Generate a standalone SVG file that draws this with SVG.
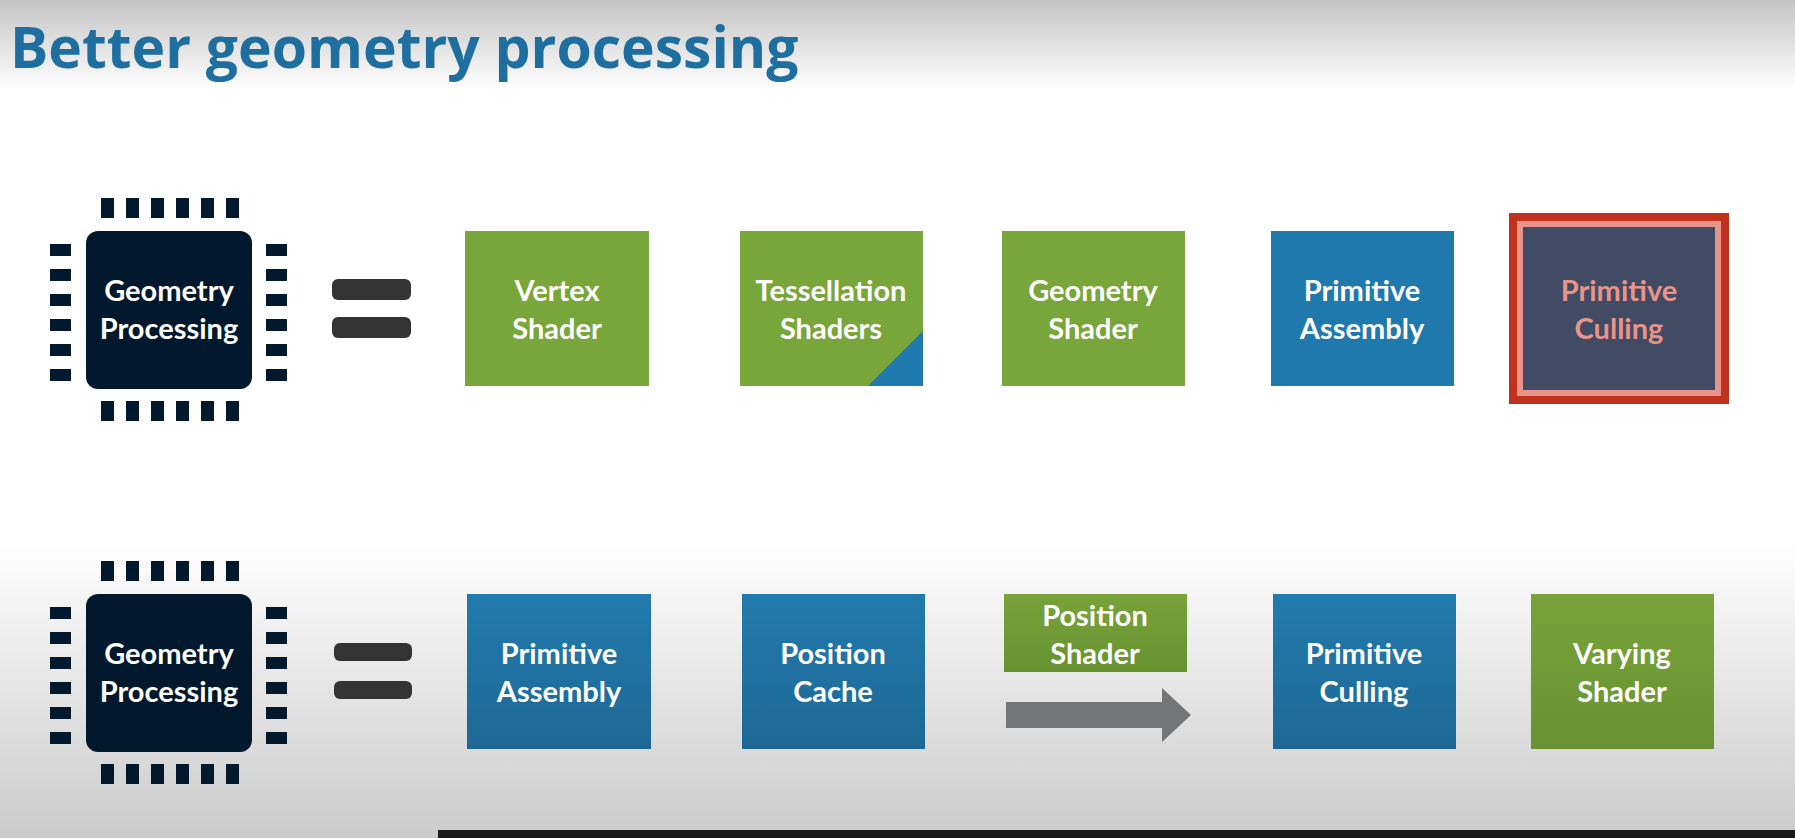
<svg xmlns="http://www.w3.org/2000/svg" width="1795" height="838" viewBox="0 0 1795 838">
<defs>
<linearGradient id="bgTop" x1="0" y1="0" x2="0" y2="1"><stop offset="0" stop-color="#c4c4c4"/><stop offset="1" stop-color="#ffffff"/></linearGradient>
<linearGradient id="bgBot" x1="0" y1="0" x2="0" y2="1"><stop offset="0" stop-color="#ffffff"/><stop offset="1" stop-color="#cbcbcb"/></linearGradient>
<linearGradient id="gGreen" x1="0" y1="0" x2="0" y2="1"><stop offset="0" stop-color="#78a33a"/><stop offset="1" stop-color="#689231"/></linearGradient>
<linearGradient id="gBlue" x1="0" y1="0" x2="0" y2="1"><stop offset="0" stop-color="#227bad"/><stop offset="1" stop-color="#1d6895"/></linearGradient>
<g id="chip">
<rect x="86" y="0" width="166" height="158" rx="12" fill="#02182d"/>
<g fill="#02182d">
<rect x="101" y="-33" width="13" height="20"/><rect x="126" y="-33" width="13" height="20"/><rect x="151" y="-33" width="13" height="20"/><rect x="176" y="-33" width="13" height="20"/><rect x="201" y="-33" width="13" height="20"/><rect x="226" y="-33" width="13" height="20"/>
<rect x="101" y="170" width="13" height="20"/><rect x="126" y="170" width="13" height="20"/><rect x="151" y="170" width="13" height="20"/><rect x="176" y="170" width="13" height="20"/><rect x="201" y="170" width="13" height="20"/><rect x="226" y="170" width="13" height="20"/>
<rect x="50" y="13" width="21" height="12"/><rect x="50" y="38" width="21" height="12"/><rect x="50" y="63" width="21" height="12"/><rect x="50" y="88" width="21" height="12"/><rect x="50" y="113" width="21" height="12"/><rect x="50" y="138" width="21" height="12"/>
<rect x="266" y="13" width="21" height="12"/><rect x="266" y="38" width="21" height="12"/><rect x="266" y="63" width="21" height="12"/><rect x="266" y="88" width="21" height="12"/><rect x="266" y="113" width="21" height="12"/><rect x="266" y="138" width="21" height="12"/>
</g>
</g>
</defs>
<style>
text{font-family:Lato,"Open Sans","Liberation Sans",sans-serif;font-weight:bold;text-anchor:middle;font-size:29px;fill:#ffffff}
.title{font-size:57px;fill:#1e6f9f;text-anchor:start;font-family:"Open Sans","Liberation Sans",sans-serif}
.eq{fill:#333333}
</style>
<rect width="1795" height="838" fill="#ffffff"/>
<rect width="1795" height="90" fill="url(#bgTop)"/>
<rect y="540" width="1795" height="298" fill="url(#bgBot)"/>
<rect x="438" y="830" width="1357" height="8" fill="#1a1a1a"/>
<text class="title" x="10" y="68">Better geometry processing</text>

<g id="row1-chip"><use href="#chip" y="231"/><text x="169" y="301">Geometry</text><text x="169" y="339">Processing</text></g>
<g id="row1-eq"><rect class="eq" x="332" y="279" width="79" height="21" rx="6"/><rect class="eq" x="332" y="317" width="79" height="21" rx="6"/></g>
<g id="vertex-shader"><rect x="465" y="231" width="184" height="155" fill="#78a63a"/><text x="557" y="301">Vertex</text><text x="557" y="339">Shader</text></g>
<g id="tessellation-shaders"><rect x="740" y="231" width="183" height="155" fill="#78a63a"/><polygon points="868,386 923,331 923,386" fill="#2079ad"/><text x="831" y="301">Tessellation</text><text x="831" y="339">Shaders</text></g>
<g id="geometry-shader"><rect x="1002" y="231" width="183" height="155" fill="#78a63a"/><text x="1093" y="301">Geometry</text><text x="1093" y="339">Shader</text></g>
<g id="primitive-assembly-1"><rect x="1271" y="231" width="183" height="155" fill="#2079ad"/><text x="1362" y="301">Primitive</text><text x="1362" y="339">Assembly</text></g>
<g id="primitive-culling-1"><rect x="1509" y="213" width="220" height="191" fill="#c0321e"/><rect x="1517" y="221" width="204" height="175" fill="#e8948a"/><rect x="1523" y="227" width="192" height="163" fill="#414b63"/><text x="1619" y="301" style="fill:#e8948a">Primitive</text><text x="1619" y="339" style="fill:#e8948a">Culling</text></g>

<g id="row2-chip"><use href="#chip" y="594"/><text x="169" y="664">Geometry</text><text x="169" y="702">Processing</text></g>
<g id="row2-eq"><rect class="eq" x="334" y="643" width="78" height="18" rx="6"/><rect class="eq" x="334" y="681" width="78" height="18" rx="6"/></g>
<g id="primitive-assembly-2"><rect x="467" y="594" width="184" height="155" fill="url(#gBlue)"/><text x="559" y="664">Primitive</text><text x="559" y="702">Assembly</text></g>
<g id="position-cache"><rect x="742" y="594" width="183" height="155" fill="url(#gBlue)"/><text x="833" y="664">Position</text><text x="833" y="702">Cache</text></g>
<g id="position-shader"><rect x="1004" y="594" width="183" height="78" fill="url(#gGreen)"/><text x="1095" y="626">Position</text><text x="1095" y="664">Shader</text></g>
<g id="connectors"><polygon points="1006,702 1162,702 1162,688 1191,715 1162,742 1162,728 1006,728" fill="#737576"/></g>
<g id="primitive-culling-2"><rect x="1273" y="594" width="183" height="155" fill="url(#gBlue)"/><text x="1364" y="664">Primitive</text><text x="1364" y="702">Culling</text></g>
<g id="varying-shader"><rect x="1531" y="594" width="183" height="155" fill="url(#gGreen)"/><text x="1622" y="664">Varying</text><text x="1622" y="702">Shader</text></g>
</svg>
